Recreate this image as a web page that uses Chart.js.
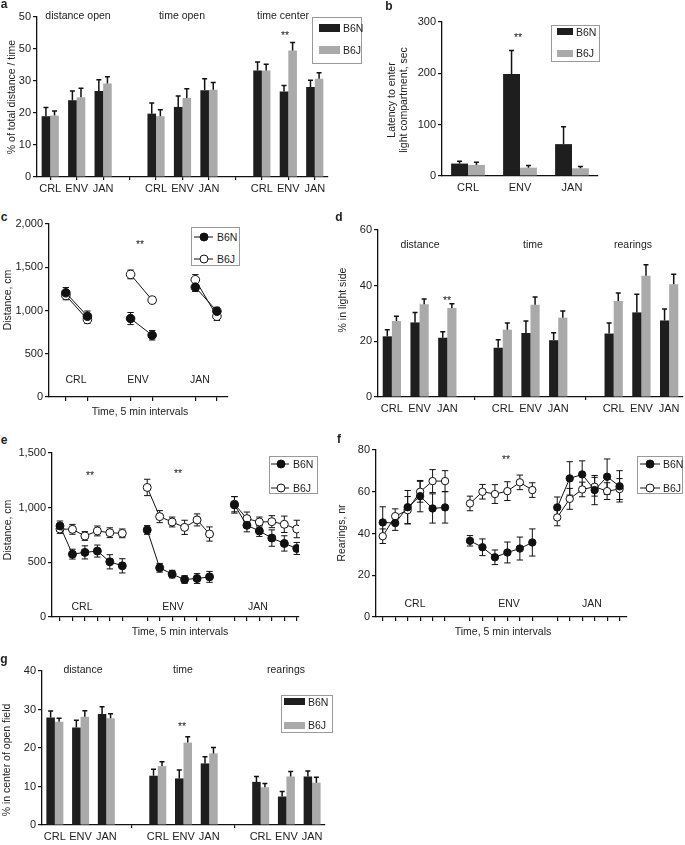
<!DOCTYPE html>
<html>
<head>
<meta charset="utf-8">
<script src="https://cdn.jsdelivr.net/npm/chart.js@4.4.1/dist/chart.umd.min.js"></script>
<style>
  html, body { margin: 0; background: #fff; }
  body { width: 685px; height: 845px; position: relative; overflow: hidden;
         font-family: "Liberation Sans", Arial, sans-serif; color: #222; }
  canvas { position: absolute; }
  .t { position: absolute; transform: translate(-50%, -50%); white-space: nowrap; font-size: 10.5px; line-height: 1; }
  .l { position: absolute; transform: translate(0, -50%); white-space: nowrap; font-size: 10.5px; line-height: 1; }
  .v { position: absolute; transform: translate(-50%, -50%) rotate(-90deg); white-space: nowrap; font-size: 10.5px; line-height: 1.15; text-align: center; }
  .p { position: absolute; transform: translate(-50%, -50%); font-weight: bold; font-size: 12px; line-height: 1; }
  .box { position: absolute; border: 1px solid #9a9a9a; background: #fff; box-sizing: border-box; }
  .sw { position: absolute; }
</style>
</head>
<body>
<script>
// ---- data ----
var slots = ['CRL', 'ENV', 'JAN', '', 'CRL', 'ENV', 'JAN', '', 'CRL', 'ENV', 'JAN']
var groups3 = ['CRL', 'ENV', 'JAN']

// a: % of total distance / time
var aTicks = ['0', '10', '20', '30', '50', '50']
var aB6N = [19.0, 24.0, 26.9, null, 19.8, 21.9, 27.1, null, 33.3, 26.7, 28.1]
var aB6NErr = [2.7, 2.9, 3.5, null, 3.3, 3.4, 3.6, null, 2.6, 1.9, 2.1]
var aB6J = [19.2, 24.9, 29.2, null, 19.0, 24.7, 27.3, null, 33.3, 39.5, 30.7]
var aB6JErr = [1.4, 2.8, 2.1, null, 2.0, 2.9, 2.2, null, 1.9, 2.5, 1.9]

// b: latency to enter light compartment
var bTicks = ['0', '100', '200', '300']
var bB6N = [24.2, 198.7, 62.1]
var bB6NErr = [4.6, 46, 34]
var bB6J = [21.6, 16.3, 15.0]
var bB6JErr = [5.2, 4.0, 3.3]

// c: distance, 2 intervals
var cX = [1, 2, 4, 5, 7, 8]
var cTicks = ['0', '500', '1,000', '1,500', '2,000']
var cB6N = [1205, 934, 907, 714, 1270, 992]
var cB6NErr = [60, 60, 70, 55, 50, 45]
var cB6J = [1174, 896, 1417, 1120, 1355, 934]
var cB6JErr = [50, 45, 50, 40, 60, 50]

// d: % in light side
var dTicks = ['0', '20', '40', '60']
var dB6N = [21.8, 26.8, 21.3, null, 17.7, 23.0, 20.4, null, 22.8, 30.4, 27.5]
var dB6NErr = [2.4, 3.6, 2.1, null, 2.9, 4.3, 2.7, null, 3.8, 6.5, 4.1]
var dB6J = [27.3, 33.3, 32.0, null, 24.2, 33.1, 28.5, null, 34.5, 43.6, 40.5]
var dB6JErr = [1.7, 1.9, 1.5, null, 2.4, 2.8, 2.4, null, 2.9, 3.9, 3.6]

// e: distance, 6 intervals
var efX = [1, 2, 3, 4, 5, 6, 8, 9, 10, 11, 12, 13, 15, 16, 17, 18, 19, 20]
var eTicks = ['0', '500', '1,000', '1,500']
var eB6N = [833, 575, 591, 603, 505, 468, 796, 450, 392, 343, 352, 367, 1025, 839, 787, 722, 673, 627]
var eB6NErr = [45, 45, 60, 55, 65, 65, 40, 40, 35, 35, 45, 50, 75, 60, 50, 75, 70, 55]
var eB6J = [805, 802, 741, 787, 771, 765, 1185, 918, 869, 820, 888, 759, 1032, 900, 869, 872, 848, 805]
var eB6JErr = [40, 45, 40, 45, 45, 40, 75, 55, 45, 65, 55, 65, 70, 60, 45, 55, 75, 80]

// f: rearings, 6 intervals
var fTicks = ['0', '20', '40', '60', '80']
var fB6N = [45.3, 45.0, 52.6, 57.9, 52.0, 52.5, 36.5, 33.4, 28.6, 30.9, 32.8, 35.7, 52.5, 66.4, 68.3, 60.8, 67.2, 62.6]
var fB6NErr = [7.5, 3.5, 8, 7.5, 7, 7.5, 2.5, 4, 3.5, 5, 5.5, 6.5, 5, 8, 6.5, 7, 8.5, 7.5]
var fB6J = [38.7, 48.3, 51.2, 60.0, 65.1, 65.1, 54.4, 60.0, 58.9, 60.3, 64.5, 60.8, 47.7, 56.6, 61.1, 62.4, 60.3, 61.3]
var fB6JErr = [3.5, 3.5, 6.5, 5, 5.5, 5, 3.5, 3.5, 4.5, 4.5, 3.5, 3.5, 4, 5, 3.5, 4.5, 4, 5]

// g: % in center of open field
var gTicks = ['0', '10', '20', '30', '40']
var gB6N = [27.9, 25.3, 28.8, null, 12.8, 12.1, 16.0, null, 11.2, 7.4, 12.6]
var gB6NErr = [1.7, 1.9, 1.9, null, 1.7, 2.2, 1.7, null, 1.4, 1.3, 1.4]
var gB6J = [26.8, 28.1, 27.7, null, 15.3, 21.4, 18.6, null, 9.8, 12.6, 11.0]
var gB6JErr = [0.9, 1.6, 1.2, null, 1.1, 1.5, 1.5, null, 1.0, 1.3, 1.4]

// ---- styling ----
var FONT = "'Liberation Sans', Arial, sans-serif"
var INK = '#111'
var DARK = '#1e1e1e'
var GREY = '#aaaaaa'

// error bars: up-only caps on bars, both ways under line markers
function drawErr(chart, up) {
    var ctx = chart.ctx, ys = chart.scales.y
    ctx.save()
    ctx.strokeStyle = INK
    ctx.lineWidth = up ? 1.5 : 1
    chart.data.datasets.forEach(function(ds, i) {
        var meta = chart.getDatasetMeta(i)
        meta.data.forEach(function(el, j) {
            var raw = ds.data[j]
            var v = (raw !== null && typeof raw === 'object') ? raw.y : raw
            var e = ds.errors[j]
            if (v == null || e == null) return
            var x = el.x, cap = up ? 2.5 : 3.2
            var yt = ys.getPixelForValue(v + e)
            var yb = ys.getPixelForValue(up ? v : v - e)
            ctx.beginPath()
            ctx.moveTo(x, yb); ctx.lineTo(x, yt)
            ctx.moveTo(x - cap, yt); ctx.lineTo(x + cap, yt)
            if (!up) { ctx.moveTo(x - cap, yb); ctx.lineTo(x + cap, yb) }
            ctx.stroke()
        })
    })
    ctx.restore()
}
Chart.register({
    id: 'errorBars',
    beforeDatasetsDraw: function(chart) { if (chart.config.type === 'line') drawErr(chart, false) },
    afterDatasetsDraw: function(chart) { if (chart.config.type === 'bar') drawErr(chart, true) }
})

function yAxis(max, step, labels) {
    return {
        min: 0, max: max,
        ticks: { stepSize: step, autoSkip: false, color: '#222', font: { size: 11, family: FONT }, padding: 2,
                 callback: function(v, i) { return labels[i] } },
        grid: { drawOnChartArea: false, tickLength: 4, color: INK, lineWidth: 1.2 },
        border: { color: INK, width: 1.3 }
    }
}

function xCat(labels, tickCol) {
    return {
        type: 'category', offset: true, labels: labels,
        ticks: { autoSkip: false, maxRotation: 0, color: '#222', font: { size: 11, family: FONT }, padding: 2 },
        grid: { offset: false, drawOnChartArea: false, tickLength: 3, lineWidth: 1.2, color: tickCol },
        border: { color: INK, width: 1.3 }
    }
}

function xLin(min, max, xs) {
    return {
        type: 'linear', min: min, max: max,
        afterBuildTicks: function(s) { s.ticks = xs.map(function(v) { return { value: v } }) },
        ticks: { autoSkip: false, maxRotation: 0, callback: function() { return '' } },
        grid: { drawOnChartArea: false, tickLength: 4, color: INK, lineWidth: 1.2 },
        border: { color: INK, width: 1.3 }
    }
}

function barSet(label, vals, errs, color, pct) {
    return { label: label, data: vals, errors: errs, backgroundColor: color,
             categoryPercentage: pct, barPercentage: 1.0, borderWidth: 0 }
}

function lineSet(label, xs, ys, es, filled, r) {
    var data = [], errors = []
    xs.forEach(function(x, k) {
        if (k > 0 && x - xs[k - 1] > 1) { data.push({ x: x - 1, y: null }); errors.push(null) }
        data.push({ x: x, y: ys[k] }); errors.push(es[k])
    })
    return { label: label, data: data, errors: errors, borderColor: INK, borderWidth: 1,
             pointRadius: r, pointHoverRadius: r, pointBorderWidth: 1, pointBorderColor: INK,
             pointBackgroundColor: filled ? INK : '#fff', spanGaps: false, tension: 0 }
}

// canvas placed so the chart area lands on box L,T,R,B
function panel(box, type, datasets, xs, ys) {
    var Y = 36, X = 22, padT = 10, padR = 4
    var c = document.createElement('canvas')
    var w = box.R - box.L + Y + padR, h = box.B - box.T + padT + X
    c.width = w; c.height = h
    c.style.left = (box.L - Y) + 'px'; c.style.top = (box.T - padT) + 'px'
    c.style.width = w + 'px'; c.style.height = h + 'px'
    document.body.appendChild(c)
    xs.afterFit = function(s) { s.height = X }
    ys.afterFit = function(s) { s.width = Y }
    return new Chart(c, {
        type: type,
        data: { datasets: datasets },
        options: {
            responsive: false, maintainAspectRatio: false, animation: false, events: [],
            layout: { padding: { top: padT, right: padR, left: 0, bottom: 0 } },
            plugins: { legend: { display: false }, tooltip: { enabled: false } },
            scales: { x: xs, y: ys }
        }
    })
}

// ---- html text helpers ----
function el(cls, x, y, html) {
    var d = document.createElement('div')
    d.className = cls
    d.style.left = x + 'px'; d.style.top = y + 'px'
    d.innerHTML = html
    document.body.appendChild(d)
    return d
}
function boxAt(l, t, w, h) {
    var d = el('box', l, t, ''); d.style.width = w + 'px'; d.style.height = h + 'px'
}
function swatch(l, t, w, h, col) {
    var d = el('sw', l, t, ''); d.style.width = w + 'px'; d.style.height = h + 'px'; d.style.background = col
}
function lineSym(x1, x2, cx, cy, filled) {
    var ns = 'http://www.w3.org/2000/svg'
    var s = document.createElementNS(ns, 'svg')
    s.setAttribute('width', x2 - x1 + 2); s.setAttribute('height', 12)
    s.style.position = 'absolute'; s.style.left = (x1 - 1) + 'px'; s.style.top = (cy - 6) + 'px'
    s.innerHTML = '<line x1="1" y1="6" x2="' + (x2 - x1 + 1) + '" y2="6" stroke="#111" stroke-width="1"/>' +
        '<circle cx="' + (cx - x1 + 1) + '" cy="6" r="4" fill="' + (filled ? '#111' : '#fff') + '" stroke="#111" stroke-width="1"/>'
    document.body.appendChild(s)
}

var cat = function(ctx) { return INK }
var gapOnly = function(ctx) { return slots[ctx.index] === '' ? INK : 'rgba(0,0,0,0)' }

// ---- a ----
panel({ L: 37, T: 17, R: 328, B: 177 }, 'bar',
    [barSet('B6N', aB6N, aB6NErr, DARK, 0.65), barSet('B6J', aB6J, aB6JErr, GREY, 0.65)],
    xCat(slots, cat), yAxis(50, 10, aTicks))

// ---- b ----
panel({ L: 442, T: 22, R: 598, B: 176 }, 'bar',
    [barSet('B6N', bB6N, bB6NErr, DARK, 0.65), barSet('B6J', bB6J, bB6JErr, GREY, 0.65)],
    xCat(groups3, function() { return 'rgba(0,0,0,0)' }), yAxis(300, 100, bTicks))

// ---- c ----
panel({ L: 49, T: 224, R: 229, B: 397 }, 'line',
    [lineSet('B6N', cX, cB6N, cB6NErr, true, 4.3), lineSet('B6J', cX, cB6J, cB6JErr, false, 4.3)],
    xLin(0.22, 8.5, cX), yAxis(2000, 500, cTicks))

// ---- d ----
panel({ L: 378, T: 230, R: 683, B: 397 }, 'bar',
    [barSet('B6N', dB6N, dB6NErr, DARK, 0.66), barSet('B6J', dB6J, dB6JErr, GREY, 0.66)],
    xCat(slots, gapOnly), yAxis(60, 20, dTicks))

// ---- e ----
panel({ L: 52, T: 453, R: 300, B: 617 }, 'line',
    [lineSet('B6N', efX, eB6N, eB6NErr, true, 4), lineSet('B6J', efX, eB6J, eB6JErr, false, 4)],
    xLin(0.36, 20.18, efX), yAxis(1500, 500, eTicks))

// ---- f ----
panel({ L: 376, T: 450, R: 627, B: 617 }, 'line',
    [lineSet('B6N', efX, fB6N, fB6NErr, true, 3.7), lineSet('B6J', efX, fB6J, fB6JErr, false, 3.7)],
    xLin(0.46, 20.54, efX), yAxis(80, 20, fTicks))

// ---- g ----
panel({ L: 42, T: 671, R: 325, B: 825 }, 'bar',
    [barSet('B6N', gB6N, gB6NErr, DARK, 0.66), barSet('B6J', gB6J, gB6JErr, GREY, 0.66)],
    xCat(slots, gapOnly), yAxis(40, 10, gTicks))

// ---- panel letters ----
el('p', 4, 4, 'a'); el('p', 389, 6, 'b'); el('p', 4, 217, 'c'); el('p', 339, 217, 'd')
el('p', 4, 440, 'e'); el('p', 339, 439, 'f'); el('p', 4, 659, 'g')

// ---- axis titles ----
el('v', 11, 97, '% of total distance / time')
el('v', 397, 100, 'Latency to enter<br>light compartment, sec')
el('v', 7, 300, 'Distance, cm')
el('v', 342, 300, '% in light side')
el('v', 7, 530, 'Distance, cm')
el('v', 341, 533, 'Rearings, nr')
el('v', 6, 760, '% in center of open field')
el('t', 140, 411, 'Time, 5 min intervals')
el('t', 180, 631, 'Time, 5 min intervals')
el('t', 503, 631, 'Time, 5 min intervals')

// ---- group titles ----
el('t', 78, 15, 'distance open'); el('t', 182, 15, 'time open'); el('t', 283, 15, 'time center')
el('t', 420, 244, 'distance'); el('t', 533, 244, 'time'); el('t', 633, 244, 'rearings')
el('t', 83, 669, 'distance'); el('t', 183, 669, 'time'); el('t', 286, 669, 'rearings')
el('t', 76, 379, 'CRL'); el('t', 138, 379, 'ENV'); el('t', 200, 379, 'JAN')
el('t', 82, 606, 'CRL'); el('t', 173, 606, 'ENV'); el('t', 258, 606, 'JAN')
el('t', 415, 603, 'CRL'); el('t', 509, 603, 'ENV'); el('t', 592, 603, 'JAN')

// ---- significance ----
el('t', 285, 35, '**'); el('t', 518, 37, '**'); el('t', 140, 244, '**'); el('t', 447, 300, '**')
el('t', 90, 475, '**'); el('t', 178, 473, '**'); el('t', 506, 459, '**'); el('t', 182, 726, '**')

// ---- legends ----
boxAt(312, 17, 50, 47)
swatch(319, 24, 21, 8, DARK); el('l', 343, 28, 'B6N')
swatch(319, 46, 21, 8, GREY); el('l', 343, 50, 'B6J')

boxAt(551, 25, 49, 37)
swatch(557, 28, 16, 7, DARK); el('l', 576, 32, 'B6N')
swatch(557, 50, 16, 7, GREY); el('l', 576, 53, 'B6J')

boxAt(191, 227, 49, 39)
lineSym(194, 213, 204, 237, true); el('l', 217, 237, 'B6N')
lineSym(194, 213, 204, 259, false); el('l', 217, 259, 'B6J')

boxAt(269, 456, 49, 38)
lineSym(271, 289, 281, 464, true); el('l', 293, 464, 'B6N')
lineSym(271, 289, 281, 488, false); el('l', 293, 488, 'B6J')

boxAt(637, 456, 46, 38)
lineSym(640, 660, 650, 464, true); el('l', 663, 464, 'B6N')
lineSym(640, 660, 650, 488, false); el('l', 663, 488, 'B6J')

boxAt(281, 695, 52, 38)
swatch(284, 698, 21, 7, DARK); el('l', 308, 702, 'B6N')
swatch(284, 722, 21, 7, GREY); el('l', 308, 725, 'B6J')
</script>
</body>
</html>
